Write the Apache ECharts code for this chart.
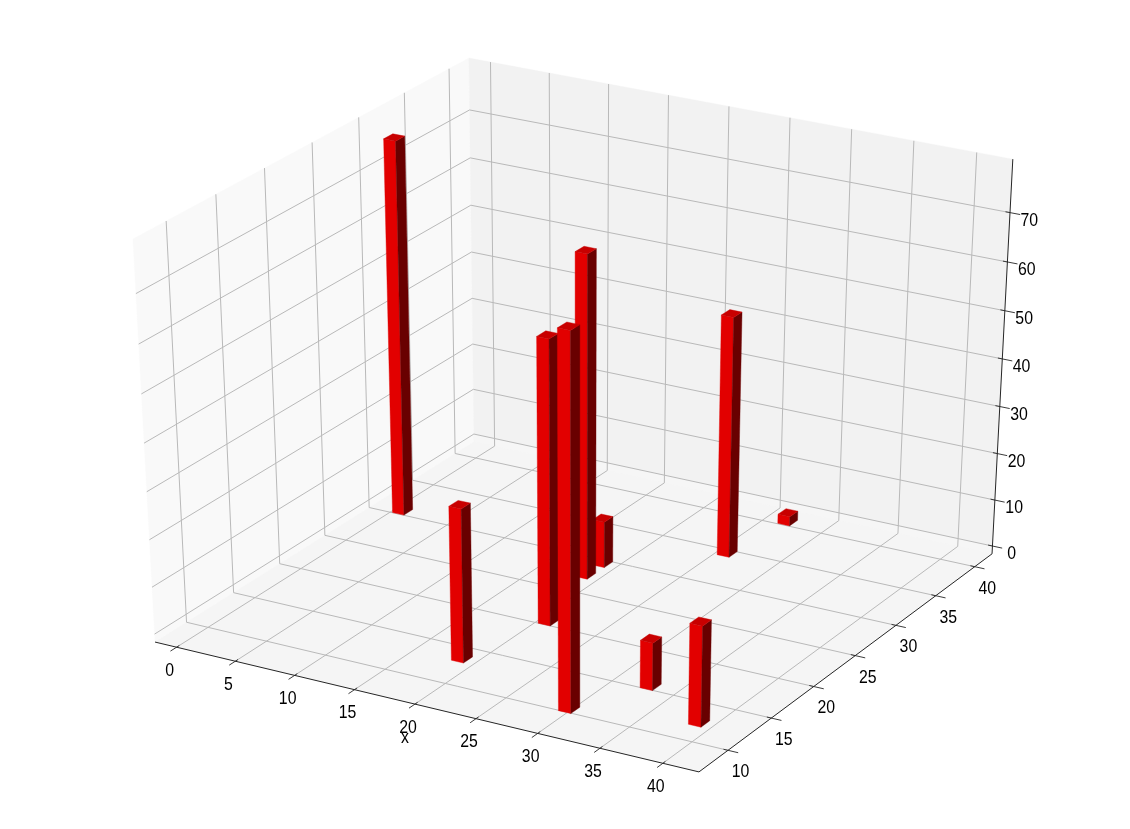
<!DOCTYPE html>
<html>
<head>
<meta charset="utf-8">
<style>html,body{margin:0;padding:0;background:#fff}#c{width:1130px;height:829px}</style>
<script src="https://cdn.jsdelivr.net/npm/echarts@6/dist/echarts.min.js"></script>
</head>
<body>
<div id="c"></div>
<script>
// Chart data
const barX = [1, 19, 21, 30, 19, 19, 33, 39, 26, 27];
const barY = [29, 12, 19, 9, 26, 28, 14, 11, 33, 39];
const barZ = [78.7, 32.2, 59.5, 77, 67.8, 9.8, 10, 21, 50.8, 2];
const xTicks = [0, 5, 10, 15, 20, 25, 30, 35, 40];
const yTicks = [10, 15, 20, 25, 30, 35, 40];
const zTicks = [0, 10, 20, 30, 40, 50, 60, 70];
const axisName = 'x';

// Axis limits of the 3D box
const xLim = [-1.85, 42.85], yLim = [6.71, 42.25], zLim = [-1.71, 80.7];
const barSize = 1;

// Camera: elevation 30, azimuth -60, distance 10
const U = [0.8660254, 0.5, 0], V = [-0.25, 0.4330127, 0.8660254], N = [0.4330127, -0.75, 0.5];
const DIST = 10, SX = 6279, CX = 580, SY = 4603, CY = 402.8;
const nrm = (v, l) => (v - l[0]) / (l[1] - l[0]) - 0.5;
const dot = (a, p) => a[0] * p[0] + a[1] * p[1] + a[2] * p[2];
function proj(x, y, z) {
  const p = [nrm(x, xLim), nrm(y, yLim), nrm(z, zLim)];
  const w = DIST - dot(N, p);
  return [CX + SX * dot(U, p) / w, CY - SY * dot(V, p) / w];
}
const depth = (x, y, z) => dot(N, [nrm(x, xLim), nrm(y, yLim), nrm(z, zLim)]);

const GRID = '#b9b9b9', AXIS = '#262626', FS = 18, FSX = 0.88, FF = '"Liberation Sans", Arial, sans-serif';
const [x0, x1] = xLim, [y0, y1] = yLim, [z0, z1] = zLim;
const dxr = x1 - x0, dyr = y1 - y0;
const TIN = 0.008, TOUT = 0.018;

function polygon(api, pts, fill) {
  return { type: 'polygon',
    shape: { points: pts.map(p => api.coord(proj(p[0], p[1], p[2]))) },
    style: { fill: fill, stroke: fill, lineWidth: 0.4 } };
}
function polyline(api, pts, color, lw) {
  return { type: 'polyline',
    shape: { points: pts.map(p => api.coord(proj(p[0], p[1], p[2]))) },
    style: { fill: null, stroke: color, lineWidth: lw } };
}
function label(api, anchor, off, text) {
  const c = api.coord(proj(anchor[0], anchor[1], anchor[2]));
  return { type: 'text', x: c[0] + off[0], y: c[1] + off[1], scaleX: FSX,
    style: { text: String(text), x: 0, y: 0,
      fill: '#000', fontSize: FS, fontFamily: FF, align: 'center', verticalAlign: 'middle' } };
}

const paneSeries = { type: 'custom', coordinateSystem: 'cartesian2d', clip: false, silent: true, z: 1,
  data: [[0]],
  renderItem(p, api) { return { type: 'group', children: [
    polygon(api, [[x0,y0,z0],[x0,y1,z0],[x0,y1,z1],[x0,y0,z1]], '#f9f9f9'),
    polygon(api, [[x0,y1,z0],[x1,y1,z0],[x1,y1,z1],[x0,y1,z1]], '#f2f2f2'),
    polygon(api, [[x0,y1,z0],[x1,y1,z0],[x1,y1,zTicks[0]],[x0,y1,zTicks[0]]], '#f6f6f6'),
    polygon(api, [[x0,y0,z0],[x1,y0,z0],[x1,y1,z0],[x0,y1,z0]], '#f5f5f5')
  ]}; } };

const gridSeries = { type: 'custom', coordinateSystem: 'cartesian2d', clip: false, silent: true, z: 2,
  data: [[0]],
  renderItem(p, api) {
    const c = [];
    xTicks.forEach(t => c.push(polyline(api, [[t,y0,z0],[t,y1,z0],[t,y1,z1]], GRID, 1)));
    yTicks.forEach(t => c.push(polyline(api, [[x1,t,z0],[x0,t,z0],[x0,t,z1]], GRID, 1)));
    zTicks.forEach(t => c.push(polyline(api, [[x1,y1,t],[x0,y1,t],[x0,y0,t]], GRID, 1)));
    return { type: 'group', children: c };
  } };

const axisSeries = { type: 'custom', coordinateSystem: 'cartesian2d', clip: false, silent: true, z: 3,
  data: [[0]],
  renderItem(p, api) {
    const c = [
      polyline(api, [[x0,y0,z0],[x1,y0,z0]], AXIS, 1),
      polyline(api, [[x1,y0,z0],[x1,y1,z0]], AXIS, 1),
      polyline(api, [[x1,y1,z0],[x1,y1,z1]], AXIS, 1)
    ];
    xTicks.forEach(t => {
      c.push(polyline(api, [[t,y0+TIN*dyr,z0],[t,y0-TOUT*dyr,z0]], AXIS, 0.9));
      c.push(label(api, [t,y0,z0], [-7,23.5], t));
    });
    yTicks.forEach(t => {
      c.push(polyline(api, [[x1-TIN*dxr,t,z0],[x1+TOUT*dxr,t,z0]], AXIS, 0.9));
      c.push(label(api, [x1,t,z0], [12.5,22], t));
    });
    zTicks.forEach(t => {
      c.push(polyline(api, [[x1-TIN*dxr,y1,t],[x1+TOUT*dxr,y1,t]], AXIS, 0.9));
      c.push(label(api, [x1,y1,t], [19.3,8.2], t));
    });
    c.push(label(api, [(x0+x1)/2,y0,z0], [-16,32], axisName));
    return { type: 'group', children: c };
  } };

const order = barX.map((_, i) => i).sort((a, b) =>
  depth(barX[a], barY[a], 0) - depth(barX[b], barY[b], 0));
const barRows = order.map(i => [barX[i], barY[i], barZ[i]]);

const barSeries = { type: 'custom', coordinateSystem: 'cartesian2d', clip: false, silent: true, z: 4,
  data: barRows,
  renderItem(p, api) {
    const a = api.value(0), b = api.value(1), h = api.value(2);
    const a2 = a + barSize, b2 = b + barSize;
    return { type: 'group', children: [
      polygon(api, [[a,b,0],[a2,b,0],[a2,b,h],[a,b,h]], '#e20000'),
      polygon(api, [[a2,b,0],[a2,b2,0],[a2,b2,h],[a2,b,h]], '#690000'),
      polygon(api, [[a,b,h],[a2,b,h],[a2,b2,h],[a,b2,h]], '#c80000')
    ]};
  } };

const chart = echarts.init(document.getElementById('c'), null, { renderer: 'canvas' });
chart.setOption({
  animation: false,
  backgroundColor: '#ffffff',
  grid: { left: 0, right: 0, top: 0, bottom: 0 },
  xAxis: { type: 'value', min: 0, max: 1130, show: false },
  yAxis: { type: 'value', min: 0, max: 829, inverse: true, show: false },
  series: [paneSeries, gridSeries, axisSeries, barSeries]
});
</script>
</body>
</html>
